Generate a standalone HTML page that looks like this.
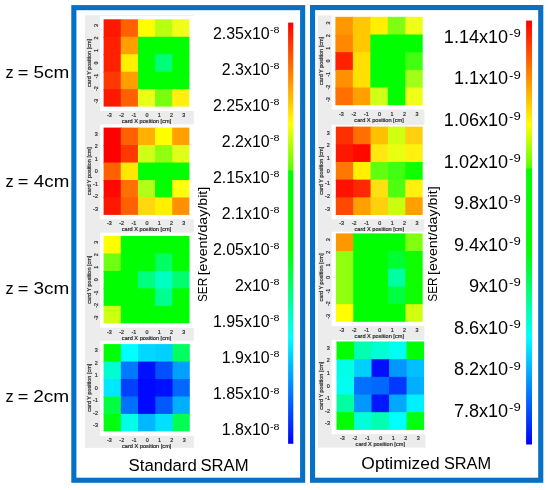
<!DOCTYPE html>
<html lang="en"><head><meta charset="utf-8"><title>SER maps</title>
<style>html,body{margin:0;padding:0;background:#fff;}svg{display:block;}text{font-family:"Liberation Sans", sans-serif;}</style>
</head><body>
<svg width="550" height="490" viewBox="0 0 550 490">
<defs><linearGradient id="cbL" x1="0" y1="0" x2="0" y2="1"><stop offset="0" stop-color="#ff0000"/><stop offset="0.2410" stop-color="#ffff00"/><stop offset="0.3490" stop-color="#58ff00"/><stop offset="0.3530" stop-color="#00ff00"/><stop offset="0.5400" stop-color="#00ff00"/><stop offset="0.7460" stop-color="#00ffff"/><stop offset="1" stop-color="#0000ff"/></linearGradient><linearGradient id="cbR" x1="0" y1="0" x2="0" y2="1"><stop offset="0" stop-color="#ff0000"/><stop offset="0.2460" stop-color="#ffff00"/><stop offset="0.3470" stop-color="#58ff00"/><stop offset="0.3510" stop-color="#00ff00"/><stop offset="0.5430" stop-color="#00ff00"/><stop offset="0.7460" stop-color="#00ffff"/><stop offset="1" stop-color="#0000ff"/></linearGradient></defs>
<rect width="550" height="490" fill="#fff"/>
<rect x="73.85" y="7.65" width="228.80" height="472.60" fill="none" stroke="#0670c6" stroke-width="5.10"/>
<rect x="312.55" y="7.55" width="228.20" height="472.70" fill="none" stroke="#0670c6" stroke-width="5.10"/>
<rect x="85.00" y="15.30" width="108.80" height="432.50" fill="#ececec"/>
<rect x="100.00" y="16.00" width="94.30" height="95.00" fill="#fff"/>
<rect x="103.60" y="19.30" width="18.16" height="18.46" fill="#ff1800"/>
<rect x="120.76" y="19.30" width="18.16" height="18.46" fill="#ff6000"/>
<rect x="137.92" y="19.30" width="18.16" height="18.46" fill="#ffff00"/>
<rect x="155.08" y="19.30" width="18.16" height="18.46" fill="#b8ff10"/>
<rect x="172.24" y="19.30" width="17.16" height="18.46" fill="#f0ff18"/>
<rect x="103.60" y="36.76" width="18.16" height="18.46" fill="#ff2000"/>
<rect x="120.76" y="36.76" width="18.16" height="18.46" fill="#ffa000"/>
<rect x="137.92" y="36.76" width="18.16" height="18.46" fill="#00ff00"/>
<rect x="155.08" y="36.76" width="18.16" height="18.46" fill="#00ff00"/>
<rect x="172.24" y="36.76" width="17.16" height="18.46" fill="#00ff00"/>
<rect x="103.60" y="54.22" width="18.16" height="18.46" fill="#ff2000"/>
<rect x="120.76" y="54.22" width="18.16" height="18.46" fill="#fff000"/>
<rect x="137.92" y="54.22" width="18.16" height="18.46" fill="#00ff00"/>
<rect x="155.08" y="54.22" width="18.16" height="18.46" fill="#00ff78"/>
<rect x="172.24" y="54.22" width="17.16" height="18.46" fill="#00ff00"/>
<rect x="103.60" y="71.68" width="18.16" height="18.46" fill="#ff3800"/>
<rect x="120.76" y="71.68" width="18.16" height="18.46" fill="#ffa000"/>
<rect x="137.92" y="71.68" width="18.16" height="18.46" fill="#00ff00"/>
<rect x="155.08" y="71.68" width="18.16" height="18.46" fill="#00ff00"/>
<rect x="172.24" y="71.68" width="17.16" height="18.46" fill="#00ff00"/>
<rect x="103.60" y="89.14" width="18.16" height="17.46" fill="#ff1800"/>
<rect x="120.76" y="89.14" width="18.16" height="17.46" fill="#ff6000"/>
<rect x="137.92" y="89.14" width="18.16" height="17.46" fill="#e8ff18"/>
<rect x="155.08" y="89.14" width="18.16" height="17.46" fill="#78ff10"/>
<rect x="172.24" y="89.14" width="17.16" height="17.46" fill="#fff010"/>
<text x="109.43" y="117.00" font-size="5.4" fill="#2a2a2a" stroke="#2a2a2a" stroke-width="0.2" text-anchor="middle">-3</text>
<text transform="translate(97.90 101.16) rotate(-90)" font-size="5.4" fill="#2a2a2a" stroke="#2a2a2a" stroke-width="0.2" text-anchor="middle">-3</text>
<text x="121.69" y="117.00" font-size="5.4" fill="#2a2a2a" stroke="#2a2a2a" stroke-width="0.2" text-anchor="middle">-2</text>
<text transform="translate(97.90 88.69) rotate(-90)" font-size="5.4" fill="#2a2a2a" stroke="#2a2a2a" stroke-width="0.2" text-anchor="middle">-2</text>
<text x="133.94" y="117.00" font-size="5.4" fill="#2a2a2a" stroke="#2a2a2a" stroke-width="0.2" text-anchor="middle">-1</text>
<text transform="translate(97.90 76.22) rotate(-90)" font-size="5.4" fill="#2a2a2a" stroke="#2a2a2a" stroke-width="0.2" text-anchor="middle">-1</text>
<text x="147.00" y="117.00" font-size="5.4" fill="#2a2a2a" stroke="#2a2a2a" stroke-width="0.2" text-anchor="middle">0</text>
<text transform="translate(97.90 62.95) rotate(-90)" font-size="5.4" fill="#2a2a2a" stroke="#2a2a2a" stroke-width="0.2" text-anchor="middle">0</text>
<text x="159.26" y="117.00" font-size="5.4" fill="#2a2a2a" stroke="#2a2a2a" stroke-width="0.2" text-anchor="middle">1</text>
<text transform="translate(97.90 50.48) rotate(-90)" font-size="5.4" fill="#2a2a2a" stroke="#2a2a2a" stroke-width="0.2" text-anchor="middle">1</text>
<text x="171.51" y="117.00" font-size="5.4" fill="#2a2a2a" stroke="#2a2a2a" stroke-width="0.2" text-anchor="middle">2</text>
<text transform="translate(97.90 38.01) rotate(-90)" font-size="5.4" fill="#2a2a2a" stroke="#2a2a2a" stroke-width="0.2" text-anchor="middle">2</text>
<text x="183.77" y="117.00" font-size="5.4" fill="#2a2a2a" stroke="#2a2a2a" stroke-width="0.2" text-anchor="middle">3</text>
<text transform="translate(97.90 25.54) rotate(-90)" font-size="5.4" fill="#2a2a2a" stroke="#2a2a2a" stroke-width="0.2" text-anchor="middle">3</text>
<text x="146.50" y="123.00" font-size="5.4" fill="#2a2a2a" stroke="#2a2a2a" stroke-width="0.2" text-anchor="middle" textLength="49.4" lengthAdjust="spacingAndGlyphs">card X position [cm]</text>
<text transform="translate(91.00 62.95) rotate(-90)" font-size="5.4" fill="#2a2a2a" stroke="#2a2a2a" stroke-width="0.2" text-anchor="middle" textLength="48" lengthAdjust="spacingAndGlyphs">card Y position [cm]</text>
<rect x="100.00" y="124.30" width="94.30" height="95.00" fill="#fff"/>
<rect x="103.60" y="127.60" width="18.16" height="18.46" fill="#ff0000"/>
<rect x="120.76" y="127.60" width="18.16" height="18.46" fill="#ff6000"/>
<rect x="137.92" y="127.60" width="18.16" height="18.46" fill="#ffb000"/>
<rect x="155.08" y="127.60" width="18.16" height="18.46" fill="#ffff00"/>
<rect x="172.24" y="127.60" width="17.16" height="18.46" fill="#ffa000"/>
<rect x="103.60" y="145.06" width="18.16" height="18.46" fill="#ff0000"/>
<rect x="120.76" y="145.06" width="18.16" height="18.46" fill="#ff3800"/>
<rect x="137.92" y="145.06" width="18.16" height="18.46" fill="#d0ff18"/>
<rect x="155.08" y="145.06" width="18.16" height="18.46" fill="#90ff10"/>
<rect x="172.24" y="145.06" width="17.16" height="18.46" fill="#e0ff18"/>
<rect x="103.60" y="162.52" width="18.16" height="18.46" fill="#ff6000"/>
<rect x="120.76" y="162.52" width="18.16" height="18.46" fill="#ffe800"/>
<rect x="137.92" y="162.52" width="18.16" height="18.46" fill="#00ff00"/>
<rect x="155.08" y="162.52" width="18.16" height="18.46" fill="#00ff00"/>
<rect x="172.24" y="162.52" width="17.16" height="18.46" fill="#00ff00"/>
<rect x="103.60" y="179.98" width="18.16" height="18.46" fill="#ff0800"/>
<rect x="120.76" y="179.98" width="18.16" height="18.46" fill="#ff7000"/>
<rect x="137.92" y="179.98" width="18.16" height="18.46" fill="#b0ff18"/>
<rect x="155.08" y="179.98" width="18.16" height="18.46" fill="#00ff00"/>
<rect x="172.24" y="179.98" width="17.16" height="18.46" fill="#ffff10"/>
<rect x="103.60" y="197.44" width="18.16" height="17.46" fill="#ff1800"/>
<rect x="120.76" y="197.44" width="18.16" height="17.46" fill="#ff6000"/>
<rect x="137.92" y="197.44" width="18.16" height="17.46" fill="#ffd810"/>
<rect x="155.08" y="197.44" width="18.16" height="17.46" fill="#fff000"/>
<rect x="172.24" y="197.44" width="17.16" height="17.46" fill="#ff9000"/>
<text x="109.43" y="225.30" font-size="5.4" fill="#2a2a2a" stroke="#2a2a2a" stroke-width="0.2" text-anchor="middle">-3</text>
<text x="95.50" y="210.56" font-size="5.4" fill="#2a2a2a" stroke="#2a2a2a" stroke-width="0.2" text-anchor="middle">-3</text>
<text x="121.69" y="225.30" font-size="5.4" fill="#2a2a2a" stroke="#2a2a2a" stroke-width="0.2" text-anchor="middle">-2</text>
<text x="95.50" y="198.09" font-size="5.4" fill="#2a2a2a" stroke="#2a2a2a" stroke-width="0.2" text-anchor="middle">-2</text>
<text x="133.94" y="225.30" font-size="5.4" fill="#2a2a2a" stroke="#2a2a2a" stroke-width="0.2" text-anchor="middle">-1</text>
<text x="95.50" y="185.62" font-size="5.4" fill="#2a2a2a" stroke="#2a2a2a" stroke-width="0.2" text-anchor="middle">-1</text>
<text x="147.00" y="225.30" font-size="5.4" fill="#2a2a2a" stroke="#2a2a2a" stroke-width="0.2" text-anchor="middle">0</text>
<text x="96.30" y="173.15" font-size="5.4" fill="#2a2a2a" stroke="#2a2a2a" stroke-width="0.2" text-anchor="middle">0</text>
<text x="159.26" y="225.30" font-size="5.4" fill="#2a2a2a" stroke="#2a2a2a" stroke-width="0.2" text-anchor="middle">1</text>
<text x="96.30" y="160.68" font-size="5.4" fill="#2a2a2a" stroke="#2a2a2a" stroke-width="0.2" text-anchor="middle">1</text>
<text x="171.51" y="225.30" font-size="5.4" fill="#2a2a2a" stroke="#2a2a2a" stroke-width="0.2" text-anchor="middle">2</text>
<text x="96.30" y="148.21" font-size="5.4" fill="#2a2a2a" stroke="#2a2a2a" stroke-width="0.2" text-anchor="middle">2</text>
<text x="183.77" y="225.30" font-size="5.4" fill="#2a2a2a" stroke="#2a2a2a" stroke-width="0.2" text-anchor="middle">3</text>
<text x="96.30" y="135.74" font-size="5.4" fill="#2a2a2a" stroke="#2a2a2a" stroke-width="0.2" text-anchor="middle">3</text>
<text x="146.50" y="231.30" font-size="5.4" fill="#2a2a2a" stroke="#2a2a2a" stroke-width="0.2" text-anchor="middle" textLength="49.4" lengthAdjust="spacingAndGlyphs">card X position [cm]</text>
<text transform="translate(91.00 171.25) rotate(-90)" font-size="5.4" fill="#2a2a2a" stroke="#2a2a2a" stroke-width="0.2" text-anchor="middle" textLength="48" lengthAdjust="spacingAndGlyphs">card Y position [cm]</text>
<rect x="100.00" y="232.70" width="94.30" height="95.00" fill="#fff"/>
<rect x="103.60" y="236.00" width="18.18" height="18.46" fill="#ffff00"/>
<rect x="120.78" y="236.00" width="18.18" height="18.46" fill="#00ff00"/>
<rect x="137.96" y="236.00" width="18.18" height="18.46" fill="#00ff00"/>
<rect x="155.14" y="236.00" width="18.18" height="18.46" fill="#00ff00"/>
<rect x="172.32" y="236.00" width="17.18" height="18.46" fill="#00ff00"/>
<rect x="103.60" y="253.46" width="18.18" height="18.46" fill="#70ff10"/>
<rect x="120.78" y="253.46" width="18.18" height="18.46" fill="#00ff00"/>
<rect x="137.96" y="253.46" width="18.18" height="18.46" fill="#00ff00"/>
<rect x="155.14" y="253.46" width="18.18" height="18.46" fill="#00ff60"/>
<rect x="172.32" y="253.46" width="17.18" height="18.46" fill="#00ff00"/>
<rect x="103.60" y="270.92" width="18.18" height="18.46" fill="#00ff00"/>
<rect x="120.78" y="270.92" width="18.18" height="18.46" fill="#00ff00"/>
<rect x="137.96" y="270.92" width="18.18" height="18.46" fill="#00ff80"/>
<rect x="155.14" y="270.92" width="18.18" height="18.46" fill="#00ffc0"/>
<rect x="172.32" y="270.92" width="17.18" height="18.46" fill="#00ff70"/>
<rect x="103.60" y="288.38" width="18.18" height="18.46" fill="#00ff00"/>
<rect x="120.78" y="288.38" width="18.18" height="18.46" fill="#00ff00"/>
<rect x="137.96" y="288.38" width="18.18" height="18.46" fill="#00ff00"/>
<rect x="155.14" y="288.38" width="18.18" height="18.46" fill="#00ff90"/>
<rect x="172.32" y="288.38" width="17.18" height="18.46" fill="#00ff00"/>
<rect x="103.60" y="305.84" width="18.18" height="17.46" fill="#d0ff10"/>
<rect x="120.78" y="305.84" width="18.18" height="17.46" fill="#00ff00"/>
<rect x="137.96" y="305.84" width="18.18" height="17.46" fill="#00ff00"/>
<rect x="155.14" y="305.84" width="18.18" height="17.46" fill="#00ff00"/>
<rect x="172.32" y="305.84" width="17.18" height="17.46" fill="#00ff00"/>
<text x="109.44" y="333.70" font-size="5.4" fill="#2a2a2a" stroke="#2a2a2a" stroke-width="0.2" text-anchor="middle">-3</text>
<text transform="translate(97.90 317.86) rotate(-90)" font-size="5.4" fill="#2a2a2a" stroke="#2a2a2a" stroke-width="0.2" text-anchor="middle">-3</text>
<text x="121.71" y="333.70" font-size="5.4" fill="#2a2a2a" stroke="#2a2a2a" stroke-width="0.2" text-anchor="middle">-2</text>
<text transform="translate(97.90 305.39) rotate(-90)" font-size="5.4" fill="#2a2a2a" stroke="#2a2a2a" stroke-width="0.2" text-anchor="middle">-2</text>
<text x="133.98" y="333.70" font-size="5.4" fill="#2a2a2a" stroke="#2a2a2a" stroke-width="0.2" text-anchor="middle">-1</text>
<text transform="translate(97.90 292.92) rotate(-90)" font-size="5.4" fill="#2a2a2a" stroke="#2a2a2a" stroke-width="0.2" text-anchor="middle">-1</text>
<text x="147.05" y="333.70" font-size="5.4" fill="#2a2a2a" stroke="#2a2a2a" stroke-width="0.2" text-anchor="middle">0</text>
<text transform="translate(97.90 279.65) rotate(-90)" font-size="5.4" fill="#2a2a2a" stroke="#2a2a2a" stroke-width="0.2" text-anchor="middle">0</text>
<text x="159.32" y="333.70" font-size="5.4" fill="#2a2a2a" stroke="#2a2a2a" stroke-width="0.2" text-anchor="middle">1</text>
<text transform="translate(97.90 267.18) rotate(-90)" font-size="5.4" fill="#2a2a2a" stroke="#2a2a2a" stroke-width="0.2" text-anchor="middle">1</text>
<text x="171.59" y="333.70" font-size="5.4" fill="#2a2a2a" stroke="#2a2a2a" stroke-width="0.2" text-anchor="middle">2</text>
<text transform="translate(97.90 254.71) rotate(-90)" font-size="5.4" fill="#2a2a2a" stroke="#2a2a2a" stroke-width="0.2" text-anchor="middle">2</text>
<text x="183.86" y="333.70" font-size="5.4" fill="#2a2a2a" stroke="#2a2a2a" stroke-width="0.2" text-anchor="middle">3</text>
<text transform="translate(97.90 242.24) rotate(-90)" font-size="5.4" fill="#2a2a2a" stroke="#2a2a2a" stroke-width="0.2" text-anchor="middle">3</text>
<text x="146.55" y="339.70" font-size="5.4" fill="#2a2a2a" stroke="#2a2a2a" stroke-width="0.2" text-anchor="middle" textLength="49.4" lengthAdjust="spacingAndGlyphs">card X position [cm]</text>
<text transform="translate(91.00 279.65) rotate(-90)" font-size="5.4" fill="#2a2a2a" stroke="#2a2a2a" stroke-width="0.2" text-anchor="middle" textLength="48" lengthAdjust="spacingAndGlyphs">card Y position [cm]</text>
<rect x="100.00" y="340.80" width="94.30" height="95.00" fill="#fff"/>
<rect x="103.60" y="344.10" width="18.24" height="18.46" fill="#00ff00"/>
<rect x="120.84" y="344.10" width="18.24" height="18.46" fill="#00ffff"/>
<rect x="138.08" y="344.10" width="18.24" height="18.46" fill="#00d8ff"/>
<rect x="155.32" y="344.10" width="18.24" height="18.46" fill="#00d0ff"/>
<rect x="172.56" y="344.10" width="17.24" height="18.46" fill="#00ff60"/>
<rect x="103.60" y="361.56" width="18.24" height="18.46" fill="#00ffd0"/>
<rect x="120.84" y="361.56" width="18.24" height="18.46" fill="#0078ff"/>
<rect x="138.08" y="361.56" width="18.24" height="18.46" fill="#0010ff"/>
<rect x="155.32" y="361.56" width="18.24" height="18.46" fill="#0050ff"/>
<rect x="172.56" y="361.56" width="17.24" height="18.46" fill="#00a0ff"/>
<rect x="103.60" y="379.02" width="18.24" height="18.46" fill="#00e8ff"/>
<rect x="120.84" y="379.02" width="18.24" height="18.46" fill="#0040ff"/>
<rect x="138.08" y="379.02" width="18.24" height="18.46" fill="#0008ff"/>
<rect x="155.32" y="379.02" width="18.24" height="18.46" fill="#0010ff"/>
<rect x="172.56" y="379.02" width="17.24" height="18.46" fill="#0068ff"/>
<rect x="103.60" y="396.48" width="18.24" height="18.46" fill="#00ff40"/>
<rect x="120.84" y="396.48" width="18.24" height="18.46" fill="#0070ff"/>
<rect x="138.08" y="396.48" width="18.24" height="18.46" fill="#0008ff"/>
<rect x="155.32" y="396.48" width="18.24" height="18.46" fill="#0058ff"/>
<rect x="172.56" y="396.48" width="17.24" height="18.46" fill="#00b0ff"/>
<rect x="103.60" y="413.94" width="18.24" height="17.46" fill="#00ff10"/>
<rect x="120.84" y="413.94" width="18.24" height="17.46" fill="#00ffe8"/>
<rect x="138.08" y="413.94" width="18.24" height="17.46" fill="#00b8ff"/>
<rect x="155.32" y="413.94" width="18.24" height="17.46" fill="#00e0ff"/>
<rect x="172.56" y="413.94" width="17.24" height="17.46" fill="#00ff50"/>
<text x="109.46" y="441.80" font-size="5.4" fill="#2a2a2a" stroke="#2a2a2a" stroke-width="0.2" text-anchor="middle">-3</text>
<text x="95.50" y="427.06" font-size="5.4" fill="#2a2a2a" stroke="#2a2a2a" stroke-width="0.2" text-anchor="middle">-3</text>
<text x="121.77" y="441.80" font-size="5.4" fill="#2a2a2a" stroke="#2a2a2a" stroke-width="0.2" text-anchor="middle">-2</text>
<text x="95.50" y="414.59" font-size="5.4" fill="#2a2a2a" stroke="#2a2a2a" stroke-width="0.2" text-anchor="middle">-2</text>
<text x="134.09" y="441.80" font-size="5.4" fill="#2a2a2a" stroke="#2a2a2a" stroke-width="0.2" text-anchor="middle">-1</text>
<text x="95.50" y="402.12" font-size="5.4" fill="#2a2a2a" stroke="#2a2a2a" stroke-width="0.2" text-anchor="middle">-1</text>
<text x="147.20" y="441.80" font-size="5.4" fill="#2a2a2a" stroke="#2a2a2a" stroke-width="0.2" text-anchor="middle">0</text>
<text x="96.30" y="389.65" font-size="5.4" fill="#2a2a2a" stroke="#2a2a2a" stroke-width="0.2" text-anchor="middle">0</text>
<text x="159.51" y="441.80" font-size="5.4" fill="#2a2a2a" stroke="#2a2a2a" stroke-width="0.2" text-anchor="middle">1</text>
<text x="96.30" y="377.18" font-size="5.4" fill="#2a2a2a" stroke="#2a2a2a" stroke-width="0.2" text-anchor="middle">1</text>
<text x="171.83" y="441.80" font-size="5.4" fill="#2a2a2a" stroke="#2a2a2a" stroke-width="0.2" text-anchor="middle">2</text>
<text x="96.30" y="364.71" font-size="5.4" fill="#2a2a2a" stroke="#2a2a2a" stroke-width="0.2" text-anchor="middle">2</text>
<text x="184.14" y="441.80" font-size="5.4" fill="#2a2a2a" stroke="#2a2a2a" stroke-width="0.2" text-anchor="middle">3</text>
<text x="96.30" y="352.24" font-size="5.4" fill="#2a2a2a" stroke="#2a2a2a" stroke-width="0.2" text-anchor="middle">3</text>
<text x="146.70" y="447.80" font-size="5.4" fill="#2a2a2a" stroke="#2a2a2a" stroke-width="0.2" text-anchor="middle" textLength="49.4" lengthAdjust="spacingAndGlyphs">card X position [cm]</text>
<text transform="translate(91.00 387.75) rotate(-90)" font-size="5.4" fill="#2a2a2a" stroke="#2a2a2a" stroke-width="0.2" text-anchor="middle" textLength="48" lengthAdjust="spacingAndGlyphs">card Y position [cm]</text>
<rect x="318.00" y="15.40" width="106.40" height="432.20" fill="#ececec"/>
<rect x="331.60" y="15.10" width="93.30" height="94.40" fill="#fff"/>
<rect x="335.40" y="16.80" width="18.46" height="18.68" fill="#ff9800"/>
<rect x="352.86" y="16.80" width="18.46" height="18.68" fill="#ffc800"/>
<rect x="370.32" y="16.80" width="18.46" height="18.68" fill="#fff000"/>
<rect x="387.78" y="16.80" width="18.46" height="18.68" fill="#80ff10"/>
<rect x="405.24" y="16.80" width="17.46" height="18.68" fill="#f0ff18"/>
<rect x="335.40" y="34.48" width="18.46" height="18.68" fill="#ff8800"/>
<rect x="352.86" y="34.48" width="18.46" height="18.68" fill="#ffc800"/>
<rect x="370.32" y="34.48" width="18.46" height="18.68" fill="#00ff00"/>
<rect x="387.78" y="34.48" width="18.46" height="18.68" fill="#00ff00"/>
<rect x="405.24" y="34.48" width="17.46" height="18.68" fill="#00ff00"/>
<rect x="335.40" y="52.16" width="18.46" height="18.68" fill="#ff2000"/>
<rect x="352.86" y="52.16" width="18.46" height="18.68" fill="#ffe000"/>
<rect x="370.32" y="52.16" width="18.46" height="18.68" fill="#00ff00"/>
<rect x="387.78" y="52.16" width="18.46" height="18.68" fill="#00ff00"/>
<rect x="405.24" y="52.16" width="17.46" height="18.68" fill="#40ff10"/>
<rect x="335.40" y="69.84" width="18.46" height="18.68" fill="#ff9000"/>
<rect x="352.86" y="69.84" width="18.46" height="18.68" fill="#ffe000"/>
<rect x="370.32" y="69.84" width="18.46" height="18.68" fill="#00ff00"/>
<rect x="387.78" y="69.84" width="18.46" height="18.68" fill="#00ff00"/>
<rect x="405.24" y="69.84" width="17.46" height="18.68" fill="#a0ff18"/>
<rect x="335.40" y="87.52" width="18.46" height="17.68" fill="#ff7000"/>
<rect x="352.86" y="87.52" width="18.46" height="17.68" fill="#ffa000"/>
<rect x="370.32" y="87.52" width="18.46" height="17.68" fill="#d0ff18"/>
<rect x="387.78" y="87.52" width="18.46" height="17.68" fill="#00ff00"/>
<rect x="405.24" y="87.52" width="17.46" height="17.68" fill="#f0ff18"/>
<text x="341.34" y="115.60" font-size="5.4" fill="#2a2a2a" stroke="#2a2a2a" stroke-width="0.2" text-anchor="middle">-3</text>
<text transform="translate(329.90 99.69) rotate(-90)" font-size="5.4" fill="#2a2a2a" stroke="#2a2a2a" stroke-width="0.2" text-anchor="middle">-3</text>
<text x="353.81" y="115.60" font-size="5.4" fill="#2a2a2a" stroke="#2a2a2a" stroke-width="0.2" text-anchor="middle">-2</text>
<text transform="translate(329.90 87.06) rotate(-90)" font-size="5.4" fill="#2a2a2a" stroke="#2a2a2a" stroke-width="0.2" text-anchor="middle">-2</text>
<text x="366.28" y="115.60" font-size="5.4" fill="#2a2a2a" stroke="#2a2a2a" stroke-width="0.2" text-anchor="middle">-1</text>
<text transform="translate(329.90 74.43) rotate(-90)" font-size="5.4" fill="#2a2a2a" stroke="#2a2a2a" stroke-width="0.2" text-anchor="middle">-1</text>
<text x="379.55" y="115.60" font-size="5.4" fill="#2a2a2a" stroke="#2a2a2a" stroke-width="0.2" text-anchor="middle">0</text>
<text transform="translate(329.90 61.00) rotate(-90)" font-size="5.4" fill="#2a2a2a" stroke="#2a2a2a" stroke-width="0.2" text-anchor="middle">0</text>
<text x="392.02" y="115.60" font-size="5.4" fill="#2a2a2a" stroke="#2a2a2a" stroke-width="0.2" text-anchor="middle">1</text>
<text transform="translate(329.90 48.37) rotate(-90)" font-size="5.4" fill="#2a2a2a" stroke="#2a2a2a" stroke-width="0.2" text-anchor="middle">1</text>
<text x="404.49" y="115.60" font-size="5.4" fill="#2a2a2a" stroke="#2a2a2a" stroke-width="0.2" text-anchor="middle">2</text>
<text transform="translate(329.90 35.74) rotate(-90)" font-size="5.4" fill="#2a2a2a" stroke="#2a2a2a" stroke-width="0.2" text-anchor="middle">2</text>
<text x="416.96" y="115.60" font-size="5.4" fill="#2a2a2a" stroke="#2a2a2a" stroke-width="0.2" text-anchor="middle">3</text>
<text transform="translate(329.90 23.11) rotate(-90)" font-size="5.4" fill="#2a2a2a" stroke="#2a2a2a" stroke-width="0.2" text-anchor="middle">3</text>
<text x="379.05" y="121.60" font-size="5.4" fill="#2a2a2a" stroke="#2a2a2a" stroke-width="0.2" text-anchor="middle" textLength="49.4" lengthAdjust="spacingAndGlyphs">card X position [cm]</text>
<text transform="translate(322.90 61.00) rotate(-90)" font-size="5.4" fill="#2a2a2a" stroke="#2a2a2a" stroke-width="0.2" text-anchor="middle" textLength="48" lengthAdjust="spacingAndGlyphs">card Y position [cm]</text>
<rect x="331.60" y="124.90" width="93.30" height="94.40" fill="#fff"/>
<rect x="335.80" y="126.60" width="18.38" height="18.68" fill="#ff3000"/>
<rect x="353.18" y="126.60" width="18.38" height="18.68" fill="#ff7000"/>
<rect x="370.56" y="126.60" width="18.38" height="18.68" fill="#ffc000"/>
<rect x="387.94" y="126.60" width="18.38" height="18.68" fill="#d0ff10"/>
<rect x="405.32" y="126.60" width="17.38" height="18.68" fill="#ffd010"/>
<rect x="335.80" y="144.28" width="18.38" height="18.68" fill="#ff1800"/>
<rect x="353.18" y="144.28" width="18.38" height="18.68" fill="#ff0800"/>
<rect x="370.56" y="144.28" width="18.38" height="18.68" fill="#ffe810"/>
<rect x="387.94" y="144.28" width="18.38" height="18.68" fill="#e8ff10"/>
<rect x="405.32" y="144.28" width="17.38" height="18.68" fill="#fff010"/>
<rect x="335.80" y="161.96" width="18.38" height="18.68" fill="#ff7800"/>
<rect x="353.18" y="161.96" width="18.38" height="18.68" fill="#fff000"/>
<rect x="370.56" y="161.96" width="18.38" height="18.68" fill="#60ff10"/>
<rect x="387.94" y="161.96" width="18.38" height="18.68" fill="#40ff10"/>
<rect x="405.32" y="161.96" width="17.38" height="18.68" fill="#10ff00"/>
<rect x="335.80" y="179.64" width="18.38" height="18.68" fill="#ff1000"/>
<rect x="353.18" y="179.64" width="18.38" height="18.68" fill="#ff2800"/>
<rect x="370.56" y="179.64" width="18.38" height="18.68" fill="#ffe010"/>
<rect x="387.94" y="179.64" width="18.38" height="18.68" fill="#50ff10"/>
<rect x="405.32" y="179.64" width="17.38" height="18.68" fill="#fff010"/>
<rect x="335.80" y="197.32" width="18.38" height="17.68" fill="#ff4800"/>
<rect x="353.18" y="197.32" width="18.38" height="17.68" fill="#ffa000"/>
<rect x="370.56" y="197.32" width="18.38" height="17.68" fill="#ffd010"/>
<rect x="387.94" y="197.32" width="18.38" height="17.68" fill="#c8ff10"/>
<rect x="405.32" y="197.32" width="17.38" height="17.68" fill="#ffa000"/>
<text x="341.71" y="225.40" font-size="5.4" fill="#2a2a2a" stroke="#2a2a2a" stroke-width="0.2" text-anchor="middle">-3</text>
<text x="327.50" y="210.59" font-size="5.4" fill="#2a2a2a" stroke="#2a2a2a" stroke-width="0.2" text-anchor="middle">-3</text>
<text x="354.12" y="225.40" font-size="5.4" fill="#2a2a2a" stroke="#2a2a2a" stroke-width="0.2" text-anchor="middle">-2</text>
<text x="327.50" y="197.96" font-size="5.4" fill="#2a2a2a" stroke="#2a2a2a" stroke-width="0.2" text-anchor="middle">-2</text>
<text x="366.54" y="225.40" font-size="5.4" fill="#2a2a2a" stroke="#2a2a2a" stroke-width="0.2" text-anchor="middle">-1</text>
<text x="327.50" y="185.33" font-size="5.4" fill="#2a2a2a" stroke="#2a2a2a" stroke-width="0.2" text-anchor="middle">-1</text>
<text x="379.75" y="225.40" font-size="5.4" fill="#2a2a2a" stroke="#2a2a2a" stroke-width="0.2" text-anchor="middle">0</text>
<text x="328.30" y="172.70" font-size="5.4" fill="#2a2a2a" stroke="#2a2a2a" stroke-width="0.2" text-anchor="middle">0</text>
<text x="392.16" y="225.40" font-size="5.4" fill="#2a2a2a" stroke="#2a2a2a" stroke-width="0.2" text-anchor="middle">1</text>
<text x="328.30" y="160.07" font-size="5.4" fill="#2a2a2a" stroke="#2a2a2a" stroke-width="0.2" text-anchor="middle">1</text>
<text x="404.58" y="225.40" font-size="5.4" fill="#2a2a2a" stroke="#2a2a2a" stroke-width="0.2" text-anchor="middle">2</text>
<text x="328.30" y="147.44" font-size="5.4" fill="#2a2a2a" stroke="#2a2a2a" stroke-width="0.2" text-anchor="middle">2</text>
<text x="416.99" y="225.40" font-size="5.4" fill="#2a2a2a" stroke="#2a2a2a" stroke-width="0.2" text-anchor="middle">3</text>
<text x="328.30" y="134.81" font-size="5.4" fill="#2a2a2a" stroke="#2a2a2a" stroke-width="0.2" text-anchor="middle">3</text>
<text x="379.25" y="231.40" font-size="5.4" fill="#2a2a2a" stroke="#2a2a2a" stroke-width="0.2" text-anchor="middle" textLength="49.4" lengthAdjust="spacingAndGlyphs">card X position [cm]</text>
<text transform="translate(322.90 170.80) rotate(-90)" font-size="5.4" fill="#2a2a2a" stroke="#2a2a2a" stroke-width="0.2" text-anchor="middle" textLength="48" lengthAdjust="spacingAndGlyphs">card Y position [cm]</text>
<rect x="331.60" y="231.70" width="93.30" height="94.40" fill="#fff"/>
<rect x="335.90" y="233.40" width="18.36" height="18.68" fill="#ff9800"/>
<rect x="353.26" y="233.40" width="18.36" height="18.68" fill="#00ff00"/>
<rect x="370.62" y="233.40" width="18.36" height="18.68" fill="#00ff00"/>
<rect x="387.98" y="233.40" width="18.36" height="18.68" fill="#00ff00"/>
<rect x="405.34" y="233.40" width="17.36" height="18.68" fill="#80ff10"/>
<rect x="335.90" y="251.08" width="18.36" height="18.68" fill="#90ff10"/>
<rect x="353.26" y="251.08" width="18.36" height="18.68" fill="#00ff00"/>
<rect x="370.62" y="251.08" width="18.36" height="18.68" fill="#00ff00"/>
<rect x="387.98" y="251.08" width="18.36" height="18.68" fill="#00ff30"/>
<rect x="405.34" y="251.08" width="17.36" height="18.68" fill="#10ff00"/>
<rect x="335.90" y="268.76" width="18.36" height="18.68" fill="#90ff10"/>
<rect x="353.26" y="268.76" width="18.36" height="18.68" fill="#00ff00"/>
<rect x="370.62" y="268.76" width="18.36" height="18.68" fill="#00ff00"/>
<rect x="387.98" y="268.76" width="18.36" height="18.68" fill="#00ffa0"/>
<rect x="405.34" y="268.76" width="17.36" height="18.68" fill="#10ff00"/>
<rect x="335.90" y="286.44" width="18.36" height="18.68" fill="#90ff10"/>
<rect x="353.26" y="286.44" width="18.36" height="18.68" fill="#00ff00"/>
<rect x="370.62" y="286.44" width="18.36" height="18.68" fill="#00ff00"/>
<rect x="387.98" y="286.44" width="18.36" height="18.68" fill="#00ff40"/>
<rect x="405.34" y="286.44" width="17.36" height="18.68" fill="#10ff00"/>
<rect x="335.90" y="304.12" width="18.36" height="17.68" fill="#ffff00"/>
<rect x="353.26" y="304.12" width="18.36" height="17.68" fill="#00ff00"/>
<rect x="370.62" y="304.12" width="18.36" height="17.68" fill="#00ff00"/>
<rect x="387.98" y="304.12" width="18.36" height="17.68" fill="#00ff00"/>
<rect x="405.34" y="304.12" width="17.36" height="17.68" fill="#d0ff10"/>
<text x="341.80" y="332.20" font-size="5.4" fill="#2a2a2a" stroke="#2a2a2a" stroke-width="0.2" text-anchor="middle">-3</text>
<text transform="translate(329.90 316.29) rotate(-90)" font-size="5.4" fill="#2a2a2a" stroke="#2a2a2a" stroke-width="0.2" text-anchor="middle">-3</text>
<text x="354.20" y="332.20" font-size="5.4" fill="#2a2a2a" stroke="#2a2a2a" stroke-width="0.2" text-anchor="middle">-2</text>
<text transform="translate(329.90 303.66) rotate(-90)" font-size="5.4" fill="#2a2a2a" stroke="#2a2a2a" stroke-width="0.2" text-anchor="middle">-2</text>
<text x="366.60" y="332.20" font-size="5.4" fill="#2a2a2a" stroke="#2a2a2a" stroke-width="0.2" text-anchor="middle">-1</text>
<text transform="translate(329.90 291.03) rotate(-90)" font-size="5.4" fill="#2a2a2a" stroke="#2a2a2a" stroke-width="0.2" text-anchor="middle">-1</text>
<text x="379.80" y="332.20" font-size="5.4" fill="#2a2a2a" stroke="#2a2a2a" stroke-width="0.2" text-anchor="middle">0</text>
<text transform="translate(329.90 277.60) rotate(-90)" font-size="5.4" fill="#2a2a2a" stroke="#2a2a2a" stroke-width="0.2" text-anchor="middle">0</text>
<text x="392.20" y="332.20" font-size="5.4" fill="#2a2a2a" stroke="#2a2a2a" stroke-width="0.2" text-anchor="middle">1</text>
<text transform="translate(329.90 264.97) rotate(-90)" font-size="5.4" fill="#2a2a2a" stroke="#2a2a2a" stroke-width="0.2" text-anchor="middle">1</text>
<text x="404.60" y="332.20" font-size="5.4" fill="#2a2a2a" stroke="#2a2a2a" stroke-width="0.2" text-anchor="middle">2</text>
<text transform="translate(329.90 252.34) rotate(-90)" font-size="5.4" fill="#2a2a2a" stroke="#2a2a2a" stroke-width="0.2" text-anchor="middle">2</text>
<text x="417.00" y="332.20" font-size="5.4" fill="#2a2a2a" stroke="#2a2a2a" stroke-width="0.2" text-anchor="middle">3</text>
<text transform="translate(329.90 239.71) rotate(-90)" font-size="5.4" fill="#2a2a2a" stroke="#2a2a2a" stroke-width="0.2" text-anchor="middle">3</text>
<text x="379.30" y="338.20" font-size="5.4" fill="#2a2a2a" stroke="#2a2a2a" stroke-width="0.2" text-anchor="middle" textLength="49.4" lengthAdjust="spacingAndGlyphs">card X position [cm]</text>
<text transform="translate(322.90 277.60) rotate(-90)" font-size="5.4" fill="#2a2a2a" stroke="#2a2a2a" stroke-width="0.2" text-anchor="middle" textLength="48" lengthAdjust="spacingAndGlyphs">card Y position [cm]</text>
<rect x="331.60" y="339.80" width="93.30" height="94.40" fill="#fff"/>
<rect x="336.50" y="341.50" width="18.52" height="18.68" fill="#00ff00"/>
<rect x="354.02" y="341.50" width="18.52" height="18.68" fill="#00ffb0"/>
<rect x="371.54" y="341.50" width="18.52" height="18.68" fill="#00ffd0"/>
<rect x="389.06" y="341.50" width="18.52" height="18.68" fill="#00fff0"/>
<rect x="406.58" y="341.50" width="17.52" height="18.68" fill="#00ff00"/>
<rect x="336.50" y="359.18" width="18.52" height="18.68" fill="#00ffe8"/>
<rect x="354.02" y="359.18" width="18.52" height="18.68" fill="#00d0ff"/>
<rect x="371.54" y="359.18" width="18.52" height="18.68" fill="#0010ff"/>
<rect x="389.06" y="359.18" width="18.52" height="18.68" fill="#0098ff"/>
<rect x="406.58" y="359.18" width="17.52" height="18.68" fill="#00c0ff"/>
<rect x="336.50" y="376.86" width="18.52" height="18.68" fill="#00fff0"/>
<rect x="354.02" y="376.86" width="18.52" height="18.68" fill="#0070ff"/>
<rect x="371.54" y="376.86" width="18.52" height="18.68" fill="#0068ff"/>
<rect x="389.06" y="376.86" width="18.52" height="18.68" fill="#0038ff"/>
<rect x="406.58" y="376.86" width="17.52" height="18.68" fill="#00b0ff"/>
<rect x="336.50" y="394.54" width="18.52" height="18.68" fill="#00ffa0"/>
<rect x="354.02" y="394.54" width="18.52" height="18.68" fill="#0098ff"/>
<rect x="371.54" y="394.54" width="18.52" height="18.68" fill="#0018ff"/>
<rect x="389.06" y="394.54" width="18.52" height="18.68" fill="#00a8ff"/>
<rect x="406.58" y="394.54" width="17.52" height="18.68" fill="#00f0ff"/>
<rect x="336.50" y="412.22" width="18.52" height="17.68" fill="#00ff00"/>
<rect x="354.02" y="412.22" width="18.52" height="17.68" fill="#00ffd8"/>
<rect x="371.54" y="412.22" width="18.52" height="17.68" fill="#00ffb0"/>
<rect x="389.06" y="412.22" width="18.52" height="17.68" fill="#00ffff"/>
<rect x="406.58" y="412.22" width="17.52" height="17.68" fill="#00ff10"/>
<text x="342.46" y="440.30" font-size="5.4" fill="#2a2a2a" stroke="#2a2a2a" stroke-width="0.2" text-anchor="middle">-3</text>
<text x="327.50" y="425.49" font-size="5.4" fill="#2a2a2a" stroke="#2a2a2a" stroke-width="0.2" text-anchor="middle">-3</text>
<text x="354.97" y="440.30" font-size="5.4" fill="#2a2a2a" stroke="#2a2a2a" stroke-width="0.2" text-anchor="middle">-2</text>
<text x="327.50" y="412.86" font-size="5.4" fill="#2a2a2a" stroke="#2a2a2a" stroke-width="0.2" text-anchor="middle">-2</text>
<text x="367.49" y="440.30" font-size="5.4" fill="#2a2a2a" stroke="#2a2a2a" stroke-width="0.2" text-anchor="middle">-1</text>
<text x="327.50" y="400.23" font-size="5.4" fill="#2a2a2a" stroke="#2a2a2a" stroke-width="0.2" text-anchor="middle">-1</text>
<text x="380.80" y="440.30" font-size="5.4" fill="#2a2a2a" stroke="#2a2a2a" stroke-width="0.2" text-anchor="middle">0</text>
<text x="328.30" y="387.60" font-size="5.4" fill="#2a2a2a" stroke="#2a2a2a" stroke-width="0.2" text-anchor="middle">0</text>
<text x="393.31" y="440.30" font-size="5.4" fill="#2a2a2a" stroke="#2a2a2a" stroke-width="0.2" text-anchor="middle">1</text>
<text x="328.30" y="374.97" font-size="5.4" fill="#2a2a2a" stroke="#2a2a2a" stroke-width="0.2" text-anchor="middle">1</text>
<text x="405.83" y="440.30" font-size="5.4" fill="#2a2a2a" stroke="#2a2a2a" stroke-width="0.2" text-anchor="middle">2</text>
<text x="328.30" y="362.34" font-size="5.4" fill="#2a2a2a" stroke="#2a2a2a" stroke-width="0.2" text-anchor="middle">2</text>
<text x="418.34" y="440.30" font-size="5.4" fill="#2a2a2a" stroke="#2a2a2a" stroke-width="0.2" text-anchor="middle">3</text>
<text x="328.30" y="349.71" font-size="5.4" fill="#2a2a2a" stroke="#2a2a2a" stroke-width="0.2" text-anchor="middle">3</text>
<text x="380.30" y="446.30" font-size="5.4" fill="#2a2a2a" stroke="#2a2a2a" stroke-width="0.2" text-anchor="middle" textLength="49.4" lengthAdjust="spacingAndGlyphs">card X position [cm]</text>
<text transform="translate(322.90 385.70) rotate(-90)" font-size="5.4" fill="#2a2a2a" stroke="#2a2a2a" stroke-width="0.2" text-anchor="middle" textLength="48" lengthAdjust="spacingAndGlyphs">card Y position [cm]</text>
<rect x="424" y="434.4" width="1.5" height="13.2" fill="#ececec"/>
<rect x="288.1" y="22.6" width="5.2" height="421.2" fill="url(#cbL)"/>
<rect x="526.1" y="20.6" width="5.9" height="423.9" fill="url(#cbR)"/>
<text y="78.00" font-size="16.2" fill="#000"><tspan x="5.50" textLength="8.10" lengthAdjust="spacingAndGlyphs">z</tspan><tspan> </tspan><tspan x="17.81" textLength="10.64" lengthAdjust="spacingAndGlyphs">=</tspan><tspan> </tspan><tspan x="33.50" textLength="35.76" lengthAdjust="spacingAndGlyphs">5cm</tspan></text>
<text y="187.40" font-size="16.2" fill="#000"><tspan x="5.50" textLength="8.10" lengthAdjust="spacingAndGlyphs">z</tspan><tspan> </tspan><tspan x="17.81" textLength="10.64" lengthAdjust="spacingAndGlyphs">=</tspan><tspan> </tspan><tspan x="33.85" textLength="35.40" lengthAdjust="spacingAndGlyphs">4cm</tspan></text>
<text y="293.60" font-size="16.2" fill="#000"><tspan x="5.50" textLength="8.10" lengthAdjust="spacingAndGlyphs">z</tspan><tspan> </tspan><tspan x="17.81" textLength="10.64" lengthAdjust="spacingAndGlyphs">=</tspan><tspan> </tspan><tspan x="33.50" textLength="35.76" lengthAdjust="spacingAndGlyphs">3cm</tspan></text>
<text y="402.00" font-size="16.2" fill="#000"><tspan x="5.50" textLength="8.10" lengthAdjust="spacingAndGlyphs">z</tspan><tspan> </tspan><tspan x="17.81" textLength="10.64" lengthAdjust="spacingAndGlyphs">=</tspan><tspan> </tspan><tspan x="33.26" textLength="36.01" lengthAdjust="spacingAndGlyphs">2cm</tspan></text>
<text y="38.60" font-size="16.0" fill="#000"><tspan x="213.00" textLength="56.59" lengthAdjust="spacingAndGlyphs">2.35x10</tspan><tspan x="270.04" dy="-5.80" font-size="9.4" textLength="9.53" lengthAdjust="spacingAndGlyphs">-8</tspan></text>
<text y="74.67" font-size="16.0" fill="#000"><tspan x="221.85" textLength="47.75" lengthAdjust="spacingAndGlyphs">2.3x10</tspan><tspan x="270.04" dy="-5.80" font-size="9.4" textLength="9.53" lengthAdjust="spacingAndGlyphs">-8</tspan></text>
<text y="110.74" font-size="16.0" fill="#000"><tspan x="213.00" textLength="56.59" lengthAdjust="spacingAndGlyphs">2.25x10</tspan><tspan x="270.04" dy="-5.80" font-size="9.4" textLength="9.53" lengthAdjust="spacingAndGlyphs">-8</tspan></text>
<text y="146.81" font-size="16.0" fill="#000"><tspan x="221.85" textLength="47.75" lengthAdjust="spacingAndGlyphs">2.2x10</tspan><tspan x="270.04" dy="-5.80" font-size="9.4" textLength="9.53" lengthAdjust="spacingAndGlyphs">-8</tspan></text>
<text y="182.88" font-size="16.0" fill="#000"><tspan x="213.00" textLength="56.59" lengthAdjust="spacingAndGlyphs">2.15x10</tspan><tspan x="270.04" dy="-5.80" font-size="9.4" textLength="9.53" lengthAdjust="spacingAndGlyphs">-8</tspan></text>
<text y="218.95" font-size="16.0" fill="#000"><tspan x="221.85" textLength="47.75" lengthAdjust="spacingAndGlyphs">2.1x10</tspan><tspan x="270.04" dy="-5.80" font-size="9.4" textLength="9.53" lengthAdjust="spacingAndGlyphs">-8</tspan></text>
<text y="255.02" font-size="16.0" fill="#000"><tspan x="213.00" textLength="56.59" lengthAdjust="spacingAndGlyphs">2.05x10</tspan><tspan x="270.04" dy="-5.80" font-size="9.4" textLength="9.53" lengthAdjust="spacingAndGlyphs">-8</tspan></text>
<text y="291.09" font-size="16.0" fill="#000"><tspan x="235.11" textLength="34.48" lengthAdjust="spacingAndGlyphs">2x10</tspan><tspan x="270.04" dy="-5.80" font-size="9.4" textLength="9.53" lengthAdjust="spacingAndGlyphs">-8</tspan></text>
<text y="327.16" font-size="16.0" fill="#000"><tspan x="213.00" textLength="56.59" lengthAdjust="spacingAndGlyphs">1.95x10</tspan><tspan x="270.04" dy="-5.80" font-size="9.4" textLength="9.53" lengthAdjust="spacingAndGlyphs">-8</tspan></text>
<text y="363.23" font-size="16.0" fill="#000"><tspan x="221.85" textLength="47.75" lengthAdjust="spacingAndGlyphs">1.9x10</tspan><tspan x="270.04" dy="-5.80" font-size="9.4" textLength="9.53" lengthAdjust="spacingAndGlyphs">-8</tspan></text>
<text y="399.30" font-size="16.0" fill="#000"><tspan x="213.00" textLength="56.59" lengthAdjust="spacingAndGlyphs">1.85x10</tspan><tspan x="270.04" dy="-5.80" font-size="9.4" textLength="9.53" lengthAdjust="spacingAndGlyphs">-8</tspan></text>
<text y="435.37" font-size="16.0" fill="#000"><tspan x="221.85" textLength="47.75" lengthAdjust="spacingAndGlyphs">1.8x10</tspan><tspan x="270.04" dy="-5.80" font-size="9.4" textLength="9.53" lengthAdjust="spacingAndGlyphs">-8</tspan></text>
<text y="42.80" font-size="17.5" fill="#000"><tspan x="443.86" textLength="64.30" lengthAdjust="spacingAndGlyphs">1.14x10</tspan><tspan x="509.03" dy="-5.80" font-size="11.6" textLength="11.68" lengthAdjust="spacingAndGlyphs">-9</tspan></text>
<text y="84.38" font-size="17.5" fill="#000"><tspan x="453.91" textLength="54.25" lengthAdjust="spacingAndGlyphs">1.1x10</tspan><tspan x="509.03" dy="-5.80" font-size="11.6" textLength="11.68" lengthAdjust="spacingAndGlyphs">-9</tspan></text>
<text y="125.96" font-size="17.5" fill="#000"><tspan x="443.86" textLength="64.30" lengthAdjust="spacingAndGlyphs">1.06x10</tspan><tspan x="509.03" dy="-5.80" font-size="11.6" textLength="11.68" lengthAdjust="spacingAndGlyphs">-9</tspan></text>
<text y="167.54" font-size="17.5" fill="#000"><tspan x="443.86" textLength="64.30" lengthAdjust="spacingAndGlyphs">1.02x10</tspan><tspan x="509.03" dy="-5.80" font-size="11.6" textLength="11.68" lengthAdjust="spacingAndGlyphs">-9</tspan></text>
<text y="209.12" font-size="17.5" fill="#000"><tspan x="453.91" textLength="54.25" lengthAdjust="spacingAndGlyphs">9.8x10</tspan><tspan x="509.03" dy="-5.80" font-size="11.6" textLength="11.68" lengthAdjust="spacingAndGlyphs">-9</tspan></text>
<text y="250.70" font-size="17.5" fill="#000"><tspan x="453.91" textLength="54.25" lengthAdjust="spacingAndGlyphs">9.4x10</tspan><tspan x="509.03" dy="-5.80" font-size="11.6" textLength="11.68" lengthAdjust="spacingAndGlyphs">-9</tspan></text>
<text y="292.28" font-size="17.5" fill="#000"><tspan x="468.97" textLength="39.18" lengthAdjust="spacingAndGlyphs">9x10</tspan><tspan x="509.03" dy="-5.80" font-size="11.6" textLength="11.68" lengthAdjust="spacingAndGlyphs">-9</tspan></text>
<text y="333.86" font-size="17.5" fill="#000"><tspan x="453.91" textLength="54.25" lengthAdjust="spacingAndGlyphs">8.6x10</tspan><tspan x="509.03" dy="-5.80" font-size="11.6" textLength="11.68" lengthAdjust="spacingAndGlyphs">-9</tspan></text>
<text y="375.44" font-size="17.5" fill="#000"><tspan x="453.91" textLength="54.25" lengthAdjust="spacingAndGlyphs">8.2x10</tspan><tspan x="509.03" dy="-5.80" font-size="11.6" textLength="11.68" lengthAdjust="spacingAndGlyphs">-9</tspan></text>
<text y="417.02" font-size="17.5" fill="#000"><tspan x="453.91" textLength="54.25" lengthAdjust="spacingAndGlyphs">7.8x10</tspan><tspan x="509.03" dy="-5.80" font-size="11.6" textLength="11.68" lengthAdjust="spacingAndGlyphs">-9</tspan></text>
<text transform="translate(207.10 302.00) rotate(-90)" font-size="12.8" fill="#000"><tspan x="0" textLength="24.2" lengthAdjust="spacingAndGlyphs">SER</tspan><tspan x="22.7" textLength="92.6" lengthAdjust="spacingAndGlyphs"> [event/day/bit]</tspan></text>
<text transform="translate(437.00 301.70) rotate(-90)" font-size="12.8" fill="#000"><tspan x="0" textLength="24.2" lengthAdjust="spacingAndGlyphs">SER</tspan><tspan x="22.7" textLength="92.6" lengthAdjust="spacingAndGlyphs"> [event/day/bit]</tspan></text>
<text y="471.00" font-size="16.8" fill="#000"><tspan x="128.60" textLength="68.14" lengthAdjust="spacingAndGlyphs">Standard</tspan><tspan> </tspan><tspan x="200.41" textLength="48.18" lengthAdjust="spacingAndGlyphs">SRAM</tspan></text>
<text y="469.20" font-size="16.8" fill="#000"><tspan x="361.38" textLength="78.20" lengthAdjust="spacingAndGlyphs">Optimized</tspan><tspan> </tspan><tspan x="443.92" textLength="47.24" lengthAdjust="spacingAndGlyphs">SRAM</tspan></text>
</svg></body></html>
